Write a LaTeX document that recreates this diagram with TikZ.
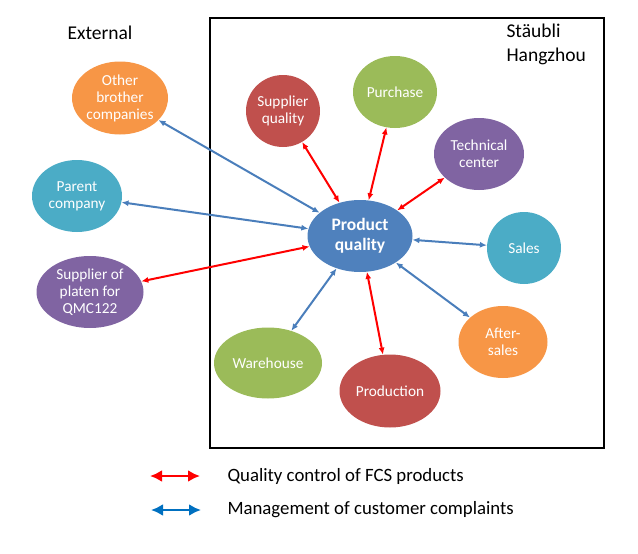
\documentclass[tikz,border=0pt]{standalone}
\usepackage{fontspec}
\setmainfont{Carlito}
\usetikzlibrary{shapes.geometric,arrows.meta}
\definecolor{cOrange}{HTML}{F79646}
\definecolor{cTeal}{HTML}{4BACC6}
\definecolor{cPurple}{HTML}{8064A2}
\definecolor{cRed}{HTML}{C0504D}
\definecolor{cGreen}{HTML}{9BBB59}
\definecolor{cBlue}{HTML}{4F81BD}
\definecolor{cLineBlue}{HTML}{4A7EBB}
\definecolor{cLegBlue}{HTML}{0070C0}
\definecolor{cLineRed}{HTML}{FF0000}
\tikzset{
  blob/.style={ellipse, inner sep=0pt, draw=none, text=white, align=center,
    font=\fontsize{15.3}{17}\selectfont},
  redlink/.style={draw=cLineRed, line width=2pt, {Latex[length=7pt,width=6pt]}-{Latex[length=7pt,width=6pt]}},
  bluelink/.style={draw=cLineBlue, line width=2pt, {Latex[length=7pt,width=6pt]}-{Latex[length=7pt,width=6pt]}},
  legred/.style={draw=cLineRed, line width=2.5pt, {Latex[length=12pt,width=12pt]}-{Latex[length=12pt,width=12pt]}},
  legblue/.style={draw=cLegBlue, line width=2.5pt, {Latex[length=12pt,width=12pt]}-{Latex[length=12pt,width=12pt]}},
  label/.style={font=\fontsize{19.5}{24}\selectfont, align=left},
  legtext/.style={font=\fontsize{18.8}{20}\selectfont, anchor=west}
}
\begin{document}
\begin{tikzpicture}[x=1pt,y=-1pt]
\useasboundingbox (0,0) rectangle (638,554);
\node[draw=black, line width=2pt, minimum width=394pt, minimum height=430pt, inner sep=0pt, anchor=north west] (box) at (209,17) {};
\node[label] (ext) at (100,33) {External};
\node[label, anchor=north west] (stau) at (503,20) {Stäubli\\Hangzhou};

\node[blob, fill=cOrange, minimum width=96pt, minimum height=73pt] (other) at (120,98) {Other\\brother\\companies};
\node[blob, fill=cTeal, minimum width=90pt, minimum height=72pt] (parent) at (77,196) {Parent\\company};
\node[blob, fill=cPurple, minimum width=107pt, minimum height=72pt] (platen) at (90,292) {Supplier of\\platen for\\QMC122};
\node[blob, fill=cRed, minimum width=74pt, minimum height=72pt] (supq) at (283,111) {Supplier\\quality};
\node[blob, fill=cGreen, minimum width=84pt, minimum height=72pt] (purch) at (395,92) {Purchase};
\node[blob, fill=cPurple, minimum width=90pt, minimum height=72pt] (tech) at (479,154) {Technical\\center};
\node[blob, fill=cBlue, minimum width=105pt, minimum height=72pt, font=\bfseries\fontsize{17.5}{20}\selectfont] (pq) at (360,236) {Product\\quality};
\node[blob, fill=cTeal, minimum width=74pt, minimum height=72pt] (sales) at (524,248) {Sales};
\node[blob, fill=cOrange, minimum width=89pt, minimum height=72pt] (after) at (503,342) {After-\\sales};
\node[blob, fill=cGreen, minimum width=108pt, minimum height=71pt] (ware) at (268,363) {Warehouse};
\node[blob, fill=cRed, minimum width=101pt, minimum height=73pt] (prod) at (390,391) {Production};

\draw[bluelink] (other) -- (pq);
\draw[bluelink] (parent) -- (pq);
\draw[redlink] (platen) -- (pq);
\draw[redlink] (supq) -- (pq);
\draw[redlink] (purch) -- (pq);
\draw[redlink] (tech) -- (pq);
\draw[bluelink] (sales) -- (pq);
\draw[bluelink] (after) -- (pq);
\draw[bluelink] (ware) -- (pq);
\draw[redlink] (prod) -- (pq);

\coordinate (r1) at (150,476);
\coordinate (r2) at (200,476);
\coordinate (b1) at (151,510);
\coordinate (b2) at (201,510);
\draw[legred] (r1) -- (r2);
\draw[legblue] (b1) -- (b2);
\node[legtext] (t1) at (224,476) {Quality control of FCS products};
\node[legtext] (t2) at (224,510) {Management of customer complaints};
\end{tikzpicture}
\end{document}
